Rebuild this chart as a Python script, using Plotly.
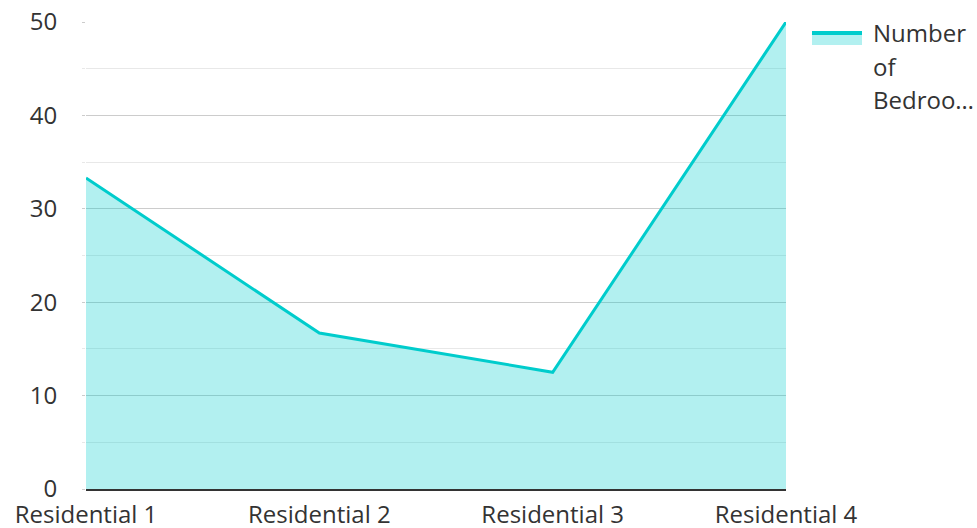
import plotly.graph_objects as go

categories = ["Residential 1", "Residential 2", "Residential 3", "Residential 4"]
bedrooms = [33.3, 16.7, 12.5, 50]
legend_lines = ["Number", "of", "Bedroo…"]
y_ticks = [0, 10, 20, 30, 40, 50]

LINE = "#00CCCC"
FILL = "rgba(0,204,204,0.3)"

fig = go.Figure()
fig.add_trace(go.Scatter(
    x=categories, y=bedrooms, mode="lines", name="Number of Bedrooms",
    line=dict(color=LINE, width=3),
    fill="tozeroy", fillcolor=FILL, showlegend=False,
))

font = dict(family="Open Sans", size=24, color="#333333")

# plot area: x 86..786 px, y 22..489 px
def px_x(px):
    return (px - 86) / 700

def px_y(py):
    return (489 - py) / 467

# legend swatch (line + fill)
fig.add_shape(type="rect", xref="paper", yref="paper",
              x0=px_x(812), x1=px_x(862), y0=px_y(45), y1=px_y(33),
              fillcolor=FILL, line=dict(width=0))
fig.add_shape(type="line", xref="paper", yref="paper",
              x0=px_x(812), x1=px_x(862), y0=px_y(33), y1=px_y(33),
              line=dict(color=LINE, width=4))
for i, txt in enumerate(legend_lines):
    fig.add_annotation(xref="paper", yref="paper", x=px_x(871), y=px_y(33 + 33 * i),
                       xanchor="left", yanchor="middle", text=txt, showarrow=False,
                       font=font)

fig.update_layout(
    width=977, height=528,
    margin=dict(l=86, r=191, t=22, b=39),
    paper_bgcolor="white", plot_bgcolor="white",
    font=font,
    showlegend=False,
    xaxis=dict(range=[0, 3], showgrid=False, showline=True, linecolor="#333333",
               linewidth=2, ticks="", tickfont=font, zeroline=False,
               ticklabelstandoff=3, automargin=False),
    yaxis=dict(range=[0, 50], tickvals=y_ticks, showgrid=True, gridcolor="#cccccc",
               gridwidth=1, zeroline=False, ticks="outside", ticklen=3,
               tickcolor="#cccccc", tickfont=font, ticklabelstandoff=20,
               automargin=False,
               minor=dict(dtick=5, showgrid=True, gridcolor="#e8e8e8",
                          ticks="outside", ticklen=3, tickcolor="#e8e8e8")),
)
fig.write_html("out.html", config={"displayModeBar": False},
               post_script="document.body.style.margin='0';")
